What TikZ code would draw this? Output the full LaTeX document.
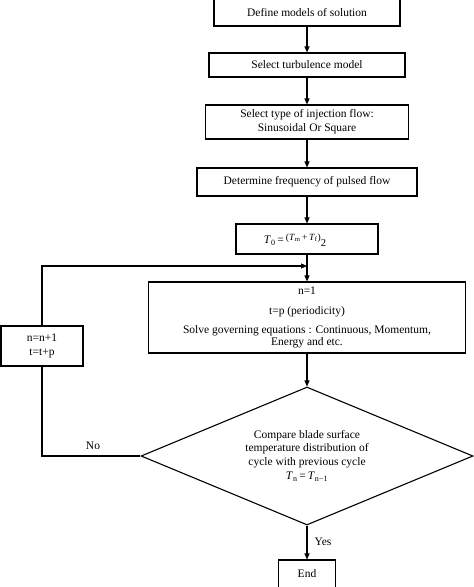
\documentclass[tikz,border=0pt]{standalone}
\usepackage{fontspec}
\setmainfont{Liberation Serif}
\usetikzlibrary{shapes.geometric,arrows.meta}
\begin{document}
\begin{tikzpicture}[x=1pt,y=-1pt,
  every node/.style={font=\fontsize{11.5}{13.7}\selectfont},
  box/.style={draw,line width=1.1pt,align=center,inner sep=0pt},
  decision/.style={draw,line width=1.1pt,shape=diamond,aspect=2.4,align=center,inner sep=0pt,minimum width=332,minimum height=138},
  conn/.style={line width=1.1pt},
  arr/.style={conn,-{Triangle[length=6pt,width=5pt]}},
  lbl/.style={inner sep=0pt}
]
\useasboundingbox (0,0) rectangle (474,587);
\node[box,minimum width=186,minimum height=27] (b1) at (307,12.5) {Define models of solution};
\node[box,minimum width=196,minimum height=24] (b2) at (307,65) {Select turbulence model};
\node[box,minimum width=203,minimum height=34] (b3) at (307,122) {Select type of injection flow:\\Sinusoidal Or Square};
\node[box,minimum width=220,minimum height=28] (b4) at (307,182) {Determine frequency of pulsed flow};
\node[box,minimum width=142,minimum height=30] (b5) at (307,239) {};
\node[lbl] (b5t) at (295,240) {\textit{T}\textsubscript{0}\,=\,\raisebox{0.7ex}{\fontsize{9.5}{11}\selectfont(\textit{T}\textsubscript{m}\,+\,\textit{T}\textsubscript{f})}\raisebox{-0.5ex}{\fontsize{10.5}{11}\selectfont 2}};
\coordinate (j) at (307,266);
\node[box,minimum width=317,minimum height=71] (big) at (307,317.5) {\raisebox{-2.5pt}{\begin{tabular}{@{}c@{}}n=1\\[5.8pt]t=p (periodicity)\\[5.8pt]Solve governing equations : Continuous, Momentum,\\[-1.7pt]Energy and etc.\end{tabular}}};
\node[box,minimum width=82,minimum height=40] (loop) at (42,346) {n=n+1\\t=t+p};
\node[decision] (dia) at (307,456) {\raisebox{3.5pt}{\begin{tabular}{@{}c@{}}Compare blade surface\\temperature distribution of\\cycle with previous cycle\\\textit{T}\textsubscript{n}\,=\,\textit{T}\textsubscript{n−1}\end{tabular}}};
\node[box,minimum width=57,minimum height=28] (end) at (307,574) {End};
\draw[arr] (b1) -- (b2);
\draw[arr] (b2) -- (b3);
\draw[arr] (b3) -- (b4);
\draw[arr] (b4) -- (b5);
\draw[arr] (b5) -- (big);
\draw[arr] (loop.north) |- (j);
\draw[arr] (big) -- (dia);
\draw[conn] (dia.west) -| (loop.south);
\draw[arr] (dia.south) -- (end);
\node[lbl] (no) at (93,446) {No};
\node[lbl] (yes) at (323,542) {Yes};
\end{tikzpicture}
\end{document}
